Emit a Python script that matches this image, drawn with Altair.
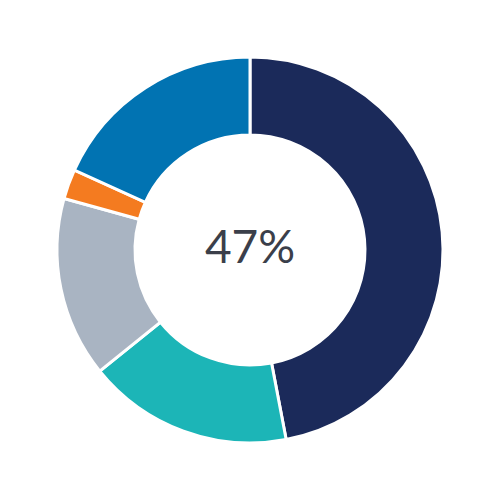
import altair as alt
import pandas as pd

categories = ["A", "B", "C", "D", "E"]
values = [47.0, 17.2, 15.1, 2.5, 18.2]
colors = ["#1B2A5A", "#1CB5B7", "#A9B4C2", "#F47B20", "#0173B2"]
center_label = ["47%"]

df = pd.DataFrame({"cat": categories, "val": values, "order": list(range(len(categories)))})

arc = alt.Chart(df).mark_arc(outerRadius=193, innerRadius=115, stroke="white", strokeWidth=3).encode(
    theta=alt.Theta("val:Q", stack=True),
    order=alt.Order("order:Q"),
    color=alt.Color("cat:N", scale=alt.Scale(domain=categories, range=colors), legend=None),
)

text = alt.Chart(pd.DataFrame({"t": center_label})).mark_text(
    font="Lato", fontSize=46, color="#3B3F4A", baseline="middle", align="center", dy=-1
).encode(text="t:N")

chart = (arc + text).properties(
    width=484, height=484, padding=0,
    autosize=alt.AutoSizeParams(type="fit", contains="padding"),
).configure_view(stroke=None)

chart.save("out.html", embed_options={"renderer": "svg", "actions": False})
